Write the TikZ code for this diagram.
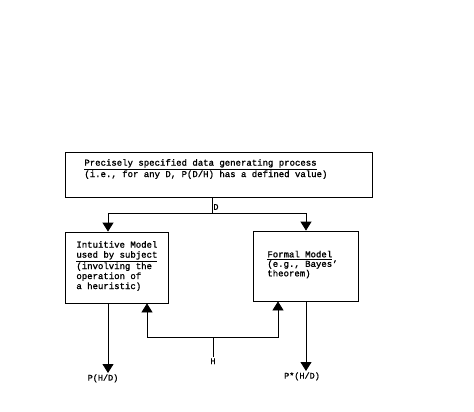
\documentclass[tikz,border=0pt]{standalone}
\usepackage{fontspec}
\setmainfont{Liberation Mono}[BoldFont={Liberation Mono}, BoldFeatures={FakeBold=1.3}]
\usetikzlibrary{arrows.meta}

\begin{document}
\begin{tikzpicture}[x=1pt, y=-1pt, line width=0.8pt,
    box/.style = {draw, rectangle, inner sep=0pt},
    txt/.style = {anchor=west, inner sep=0pt, align=left, font=\fontsize{9}{10}\selectfont\bfseries},
    lbl/.style = {inner sep=1pt, font=\fontsize{8.5}{10}\selectfont\bfseries},
    arr/.style = {-{Triangle[width=11pt, length=9pt]}}]
  \useasboundingbox (0,0) rectangle (474,412);
  % boxes
  \node[box, minimum width=307pt, minimum height=45pt] (proc) at (218.5,175) {};
  \node[box, minimum width=103pt, minimum height=71pt] (intu) at (116.5,267.5) {};
  \node[box, minimum width=105pt, minimum height=70pt] (form) at (305.5,266) {};
  \node[txt, font=\fontsize{9}{8.7}\selectfont\bfseries] (proctxt) at (84,169)
    {\underline{Precisely specified data generating process}\\(i.e., for any D, P(D/H) has a defined value)};
  \node[txt] (intutxt) at (76,266)
    {Intuitive Model\\\underline{used by subject}\\(involving the\\operation of\\a heuristic)};
  \node[txt, font=\fontsize{9}{9.5}\selectfont\bfseries] (formtxt) at (267,264.5)
    {\underline{Formal Model}\\(e.g., Bayes'\\theorem)};
  % connector points
  \coordinate (dsplit) at (212,213);
  \coordinate (hjoin) at (213,337);
  \coordinate (lx) at (108,0);
  \coordinate (rx) at (306,0);
  \node[lbl, anchor=north] (pout) at (103,373) {P(H/D)};
  \node[lbl, anchor=north] (psout) at (302,371) {P*(H/D)};
  \node[lbl, anchor=north] (hlab) at (213,357) {H};
  % D branch
  \draw (proc.south -| dsplit) -- node[lbl, anchor=west, pos=0.6] {D} (dsplit);
  \draw[arr] (dsplit) -| (lx |- intu.north);
  \draw[arr] (dsplit) -| (rx |- form.north);
  % outputs
  \draw[arr] (lx |- intu.south) -- (lx |- pout.north);
  \draw[arr] (rx |- form.south) -- (rx |- psout.north);
  % H feedback
  \draw (hjoin) -- (hlab.north);
  \draw[arr] (hjoin) -| (147,0 |- intu.south);
  \draw[arr] (hjoin) -| (278,0 |- form.south);
\end{tikzpicture}
\end{document}
